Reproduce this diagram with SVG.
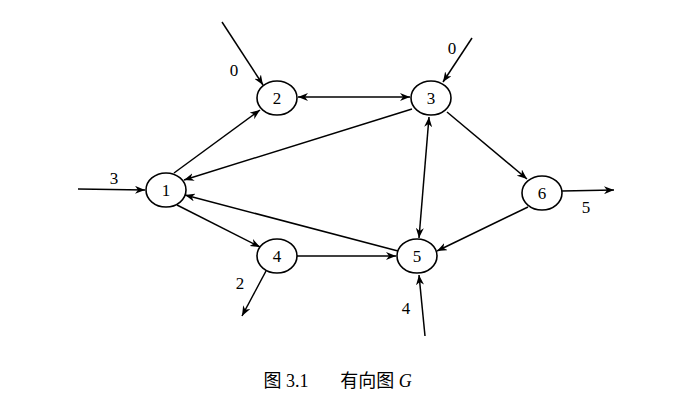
<svg xmlns="http://www.w3.org/2000/svg" width="697" height="404" viewBox="0 0 697 404">
<style>
.n{fill:#fff;stroke:#000;stroke-width:1.6}
.t{font-family:"Liberation Serif","Noto Sans CJK SC",serif;font-size:17px;text-anchor:middle}
.e{stroke:#000;stroke-width:1.5;fill:none;marker-end:url(#a)}
.d{marker-start:url(#b)}
</style>
<defs>
<marker id="a" viewBox="0 0 10 8" refX="10" refY="4" markerWidth="10" markerHeight="8" markerUnits="userSpaceOnUse" orient="auto"><path d="M0,0L10,4L0,8L3,4z"/></marker>
<marker id="b" viewBox="0 0 10 8" refX="0" refY="4" markerWidth="10" markerHeight="8" markerUnits="userSpaceOnUse" orient="auto"><path d="M10,0L0,4L10,8L7,4z"/></marker>
</defs>
<rect width="697" height="404" fill="#fff"/>
<g id="edges">
<line class="e" x1="222" y1="22" x2="263" y2="85"/>
<line class="e" x1="472" y1="38" x2="443" y2="82"/>
<line class="e d" x1="298" y1="97" x2="410" y2="97"/>
<line class="e" x1="412" y1="109" x2="184" y2="180"/>
<line class="e" x1="174" y1="173" x2="260" y2="110"/>
<line class="e" x1="447" y1="112" x2="527" y2="179"/>
<line class="e d" x1="429" y1="117" x2="419" y2="238"/>
<line class="e" x1="528" y1="207" x2="437" y2="251"/>
<line class="e" x1="398" y1="251" x2="185" y2="195"/>
<line class="e" x1="177" y1="205" x2="260" y2="247"/>
<line class="e" x1="297" y1="256" x2="396" y2="256"/>
<line class="e" x1="266" y1="271" x2="242" y2="316"/>
<line class="e" x1="425" y1="336" x2="419" y2="275"/>
<line class="e" x1="78" y1="189" x2="145" y2="190"/>
<line class="e" x1="562" y1="191" x2="614" y2="190"/>
</g>
<g id="labels" class="t">
<text x="234" y="76">0</text>
<text x="452" y="54">0</text>
<text x="114" y="184">3</text>
<text x="240" y="289">2</text>
<text x="406" y="314">4</text>
<text x="586" y="213">5</text>
</g>
<g id="n1"><ellipse class="n" cx="166" cy="190" rx="20" ry="17"/><text class="t" x="166" y="196">1</text></g>
<g id="n2"><ellipse class="n" cx="277" cy="98" rx="20" ry="17"/><text class="t" x="277" y="104">2</text></g>
<g id="n3"><ellipse class="n" cx="431" cy="98" rx="20" ry="17"/><text class="t" x="431" y="104">3</text></g>
<g id="n4"><ellipse class="n" cx="277" cy="256" rx="20" ry="17"/><text class="t" x="277" y="262">4</text></g>
<g id="n5"><ellipse class="n" cx="417" cy="256" rx="20" ry="17"/><text class="t" x="417" y="262">5</text></g>
<g id="n6"><ellipse class="n" cx="542" cy="193" rx="20" ry="17"/><text class="t" x="542" y="199">6</text></g>
<g id="caption" class="t" style="font-size:18px">
<text x="286" y="387">图 3.1</text>
<text x="376" y="387">有向图 <tspan font-style="italic">G</tspan></text>
</g>
</svg>
